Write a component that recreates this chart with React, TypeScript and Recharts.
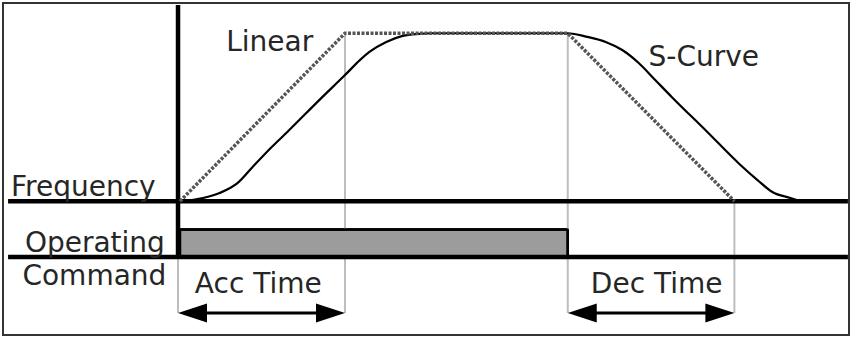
import React from "react";
import { ComposedChart, Line, XAxis, YAxis, ReferenceLine, ReferenceArea, ReferenceDot } from "recharts";

// time: 1 unit = 1/10 of the linear acc time, frequency: % of target
const linearProfile = [
  { t: 0, f: 0 },
  { t: 10, f: 100 },
  { t: 23.5, f: 100 },
  { t: 33.6, f: 0 },
];

const sCurveProfile = [
  { t: 0, f: 0 },
  { t: 1.4, f: 1.9 },
  { t: 2.4, f: 4.9 },
  { t: 3.5, f: 10.9 },
  { t: 4.4, f: 20.4 },
  { t: 5.5, f: 31.7 },
  { t: 6.5, f: 41.2 },
  { t: 8.5, f: 60.8 },
  { t: 10, f: 75.1 },
  { t: 10.9, f: 84 },
  { t: 11.5, f: 89 },
  { t: 12.5, f: 94.8 },
  { t: 13.5, f: 98.4 },
  { t: 14.5, f: 99.6 },
  { t: 15.2, f: 100 },
  { t: 23.5, f: 100 },
  { t: 24.7, f: 97.8 },
  { t: 25.8, f: 94.8 },
  { t: 26.8, f: 90 },
  { t: 27.8, f: 82.3 },
  { t: 28.8, f: 72.2 },
  { t: 29.8, f: 62.1 },
  { t: 31.9, f: 41.8 },
  { t: 33.9, f: 22.2 },
  { t: 35, f: 12.6 },
  { t: 35.9, f: 5.5 },
  { t: 37, f: 1.9 },
  { t: 37.6, f: 0 },
];

const accTime = [0, 10];
const decTime = [23.5, 33.6];
const runCommand = [0, 23.5];

const rowLabels = ["Frequency", "Operating", "Command"];
const curveLabels = ["Linear", "S-Curve"];
const timeLabels = ["Acc Time", "Dec Time"];

// layout, in chart units
const axisT = -0.12;
const leftEdge = -10.42;
const rightEdge = 40.48;
const axisTop = 116.8;
const cmdTop = -16.8;
const cmdBase = -33.2;
const arrowF = -66.5;

const font = { fontFamily: "DejaVu Sans", fontSize: 28, fill: "#262626" };

const textAt = (label: string) => (p: any) => (
  <text x={p.cx} y={p.cy} {...font}>{label}</text>
);

const arrowShape = (p: any) => {
  const { x1, y1, x2 } = p;
  const hl = 29, hh = 9.5;
  return (
    <g>
      <line x1={x1 + hl - 2} y1={y1} x2={x2 - hl + 2} y2={y1} stroke="#000" strokeWidth={3} />
      <polygon points={`${x1},${y1} ${x1 + hl},${y1 - hh} ${x1 + hl},${y1 + hh}`} fill="#000" />
      <polygon points={`${x2},${y1} ${x2 - hl},${y1 - hh} ${x2 - hl},${y1 + hh}`} fill="#000" />
    </g>
  );
};

const guide = { stroke: "#bdbdbd", strokeWidth: 2, ifOverflow: "visible" as const };
const thick = { stroke: "#000", strokeWidth: 4.5, ifOverflow: "visible" as const };

const rowPos = [
  { t: -10.24, f: 3.1 },
  { t: -9.4, f: -30.2 },
  { t: -9.55, f: -49.8 },
];
const curvePos = [
  { t: 2.8, f: 89.4 },
  { t: 28.4, f: 80.5 },
];
const timePos = [
  { t: 0.9, f: -54.9 },
  { t: 24.9, f: -54.9 },
];

export default function App() {
  return (
    <div style={{ position: "absolute", left: 0, top: 0, width: 858, height: 341, background: "#fff" }}>
      <div
        style={{
          position: "absolute", left: 2, top: 2, width: 848, height: 334,
          border: "2px solid #333", boxSizing: "border-box",
        }}
      />
      <div style={{ position: "absolute", left: 0, top: 0 }}>
        <ComposedChart width={858} height={341} margin={{ top: 3, right: 18, bottom: 2, left: 15 }}>
          <XAxis type="number" dataKey="t" domain={[-10, 40]} hide allowDataOverflow />
          <YAxis type="number" dataKey="f" domain={[-82, 118]} hide allowDataOverflow />

          <ReferenceArea
            x1={runCommand[0]} x2={runCommand[1]} y1={cmdBase} y2={cmdTop}
            fill="#9c9c9c" fillOpacity={1} stroke="#000" strokeWidth={2.5} ifOverflow="visible"
          />

          {/* guides stop at the operating bar and resume below it */}
          <ReferenceLine segment={[{ x: accTime[1], y: 100 }, { x: accTime[1], y: cmdTop }]} {...guide} />
          <ReferenceLine segment={[{ x: accTime[1], y: cmdBase }, { x: accTime[1], y: arrowF }]} {...guide} />
          <ReferenceLine segment={[{ x: decTime[0], y: 100 }, { x: decTime[0], y: cmdTop }]} {...guide} />
          <ReferenceLine segment={[{ x: decTime[0], y: cmdBase }, { x: decTime[0], y: arrowF }]} {...guide} />
          <ReferenceLine segment={[{ x: decTime[1], y: 0 }, { x: decTime[1], y: arrowF }]} {...guide} />
          <ReferenceLine segment={[{ x: axisT, y: cmdBase }, { x: axisT, y: arrowF }]} {...guide} />

          <ReferenceLine segment={[{ x: decTime[0], y: cmdTop }, { x: decTime[0], y: cmdBase }]} stroke="#000" strokeWidth={2.5} ifOverflow="visible" />
          <ReferenceLine segment={[{ x: runCommand[0], y: cmdTop }, { x: runCommand[1], y: cmdTop }]} stroke="#000" strokeWidth={2.5} ifOverflow="visible" />

          <ReferenceLine segment={[{ x: leftEdge, y: 0 }, { x: rightEdge, y: 0 }]} {...thick} />
          <ReferenceLine segment={[{ x: leftEdge, y: cmdBase }, { x: rightEdge, y: cmdBase }]} {...thick} />
          <ReferenceLine segment={[{ x: axisT, y: axisTop }, { x: axisT, y: cmdBase }]} {...thick} />

          <Line
            data={sCurveProfile} dataKey="f" type="monotone" stroke="#000" strokeWidth={2.2}
            dot={false} activeDot={false} isAnimationActive={false}
          />
          <Line
            data={linearProfile} dataKey="f" type="linear" stroke="#555" strokeWidth={3.5}
            strokeDasharray="3 1.5" dot={false} activeDot={false} isAnimationActive={false}
          />

          <ReferenceLine segment={[{ x: axisT, y: arrowF }, { x: accTime[1], y: arrowF }]} shape={arrowShape} ifOverflow="visible" />
          <ReferenceLine segment={[{ x: decTime[0], y: arrowF }, { x: decTime[1], y: arrowF }]} shape={arrowShape} ifOverflow="visible" />

          {rowLabels.map((s, i) => (
            <ReferenceDot key={s} x={rowPos[i].t} y={rowPos[i].f} r={0} ifOverflow="visible" shape={textAt(s)} />
          ))}
          {curveLabels.map((s, i) => (
            <ReferenceDot key={s} x={curvePos[i].t} y={curvePos[i].f} r={0} ifOverflow="visible" shape={textAt(s)} />
          ))}
          {timeLabels.map((s, i) => (
            <ReferenceDot key={s} x={timePos[i].t} y={timePos[i].f} r={0} ifOverflow="visible" shape={textAt(s)} />
          ))}
        </ComposedChart>
      </div>
    </div>
  );
}
